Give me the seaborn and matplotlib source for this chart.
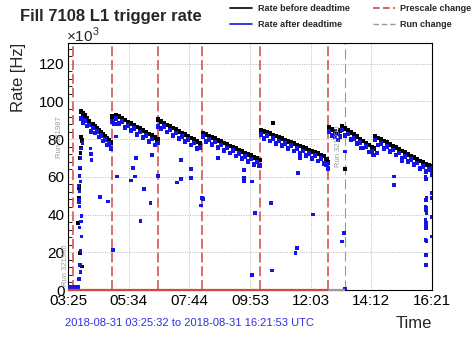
import matplotlib
matplotlib.use("Agg")
import matplotlib.pyplot as plt
from matplotlib.lines import Line2D
from matplotlib.ticker import MultipleLocator, FixedLocator
import numpy as np
import pandas as pd
import seaborn as sns

# --- donnees (temps en minutes depuis 03:25:32) ---
t_main = [27.7, 32.0, 36.3, 40.5, 44.8, 49.1, 53.3, 57.6, 61.9, 66.1, 70.4, 74.6, 78.9, 83.2, 87.4, 91.7,
          95.3, 98.7, 102.4, 108.8, 115.2, 121.6, 128.0, 134.4, 140.8, 147.2, 153.6, 160.0, 166.4, 172.8, 179.2, 185.6, 190.9,
          192.0, 198.4, 204.7, 211.1, 217.5, 223.9, 230.3, 236.7, 243.1, 249.5, 255.9, 262.3, 268.7, 275.1, 281.5,
          287.9, 294.3, 300.7, 307.1, 313.5, 319.9, 326.3, 332.7, 339.1, 345.5, 351.9, 358.3, 364.7, 371.1, 377.5, 383.9, 390.3, 396.7, 403.1, 408.4,
          411.6, 418.0, 424.4, 430.8, 437.2, 443.6, 450.0, 456.4, 462.8, 469.2, 475.6, 482.0, 488.4, 494.8, 501.2, 507.6, 514.0, 520.4, 526.8, 533.2, 539.6, 546.0, 551.3, 554.5,
          556.7, 563.1, 569.5, 575.9, 580.2,
          584.4, 590.8, 597.2, 603.6, 610.0, 616.4, 622.8, 629.2, 635.6, 642.0, 648.4, 651.6,
          654.8, 661.2, 667.6, 674.0, 680.4, 686.8, 693.2, 699.6, 706.0, 712.4, 718.8, 725.2, 731.6, 738.0, 744.4, 750.8, 757.1, 763.5, 769.9, 776.0]

rate_before = [94.7, 93.6, 92.4, 91.0, 89.5, 87.6, 88.0, 87.0, 86.0, 84.9, 83.8, 82.7, 81.6, 80.5, 79.4, 78.3,
               92.0, 91.0, 92.9, 92.0, 91.1, 90.1, 89.2, 88.3, 87.4, 86.4, 85.5, 84.6, 83.6, 82.7, 81.8, 80.8, 80.0,
               90.3, 89.4, 88.5, 87.6, 86.7, 85.9, 85.0, 84.1, 83.2, 82.4, 81.5, 80.6, 79.7, 78.8, 77.9,
               83.2, 82.4, 81.7, 80.9, 80.2, 79.4, 78.7, 77.9, 77.2, 76.4, 75.7, 74.9, 74.2, 73.4, 72.7, 71.9, 71.2, 70.4, 69.7, 69.0,
               84.9, 84.2, 83.6, 82.9, 82.3, 81.6, 80.9, 80.3, 79.6, 78.9, 78.3, 77.6, 77.0, 76.3, 75.6, 75.0, 74.3, 73.6, 73.0, 72.3, 71.7, 71.0, 69.5, 67.5,
               86.2, 85.2, 84.0, 82.8, 84.5,
               86.8, 85.7, 84.6, 83.5, 82.4, 81.3, 80.1, 79.0, 77.9, 76.8, 75.7, 74.9,
               81.6, 80.7, 79.8, 79.0, 78.1, 77.2, 76.3, 75.5, 74.6, 73.7, 72.8, 72.0, 71.1, 70.2, 69.3, 68.4, 67.6, 66.7, 65.9, 65.6]

rate_after = [91.0, 88.5, 90.0, 87.0, 87.5, 84.0, 86.0, 83.3, 84.2, 81.2, 82.0, 79.0, 79.8, 76.8, 77.6, 75.0,
              89.5, 88.0, 90.8, 88.2, 89.3, 86.3, 87.4, 84.5, 85.6, 82.6, 83.7, 80.8, 81.8, 78.9, 80.0, 77.0, 78.0,
              86.7, 85.6, 86.7, 83.8, 84.9, 82.1, 83.2, 80.3, 81.4, 78.6, 79.7, 76.8, 77.9, 75.0, 75.6,
              81.4, 78.6, 79.9, 77.1, 78.4, 75.6, 76.9, 74.1, 75.4, 72.6, 73.9, 71.1, 72.4, 69.6, 70.9, 68.1, 69.4, 66.6, 67.9, 66.0,
              82.6, 80.4, 81.8, 79.1, 80.5, 77.8, 79.1, 76.5, 77.8, 75.1, 76.5, 73.8, 75.2, 72.5, 73.8, 71.2, 72.5, 69.8, 71.2, 68.5, 69.9, 67.2, 66.5, 64.5,
              84.0, 82.0, 81.5, 79.5, 81.5,
              84.8, 82.0, 82.7, 79.8, 80.5, 77.6, 78.2, 75.3, 76.0, 73.1, 73.8, 71.5,
              79.5, 76.9, 77.8, 75.2, 76.1, 73.4, 74.3, 71.7, 72.6, 69.9, 70.8, 68.2, 69.1, 66.4, 67.3, 64.6, 65.6, 63.0, 64.0, 63.5]

# points isoles (montee du debut, chutes)
extra_before_t = [22.0, 24.1, 24.1, 24.1, 25.6, 24.5, 26.7, 27.7, 29.9, 27.7, 29.2, 25.6, 29.2, 437.2, 590.8]
extra_before = [35.4, 48.8, 55.2, 54.1, 64.8, 70.0, 72.6, 75.5, 78.7, 81.2, 79.6, 19.6, 12.4, 88.5, 64.2]

extra_after_t = [1.0, 3.5, 6.0, 8.5, 11.0, 13.5, 16.0, 18.5, 21.0,
                 26.7, 22.4, 24.5, 23.5, 24.1, 24.5, 28.8, 27.7, 24.5, 28.8, 26.7, 25.6, 26.7, 23.5,
                 24.5, 25.6, 26.7, 27.7, 30.9, 48.0, 49.1, 50.1,
                 68.3, 86.0, 102.4, 103.9, 96.6, 139.3, 145.0, 134.4, 142.9, 154.6, 162.1, 175.9, 178.5,
                 241.0, 262.3, 241.0, 233.1, 262.3, 192.6, 285.2, 283.0, 319.3, 376.0, 376.0, 376.0, 288.6,
                 391.8, 398.8, 391.8, 491.2, 494.8, 432.3, 434.5, 488.4, 485.2, 523.2,
                 590.8, 583.8, 589.3, 590.8, 624.9, 652.6, 658.4, 695.9, 695.9, 711.7,
                 762.5, 763.0, 764.6, 763.5, 762.8, 764.0, 763.2, 764.6, 762.5, 763.8, 764.2, 763.0, 762.7, 764.4, 763.1, 764.0,
                 775.3, 775.6, 775.0, 775.8, 775.3, 775.5]
extra_after = [1.5, 1.6, 1.4, 1.7, 1.5, 1.6, 1.8, 1.5, 1.6,
               57.5, 55.2, 52.6, 47.8, 46.4, 44.2, 39.3, 36.3, 33.1, 28.3, 20.7, 13.3, 9.7, 5.7,
               60.5, 65.0, 70.0, 75.0, 78.0, 75.0, 72.0, 69.0,
               49.2, 46.9, 81.4, 60.2, 21.2, 64.6, 69.9, 58.0, 60.2, 36.7, 53.4, 46.2, 71.7,
               69.0, 64.1, 58.9, 57.0, 59.3, 60.5, 48.7, 44.8, 69.9, 63.7, 59.3, 57.5, 48.1,
               57.5, 40.7, 7.8, 62.0, 69.9, 46.0, 10.3, 22.1, 19.8, 40.0,
               73.4, 25.7, 30.1, 0.4, 75.2, 71.7, 72.6, 60.2, 55.7, 68.1,
               60.2, 58.9, 48.7, 47.8, 44.2, 43.4, 42.5, 40.7, 37.2, 35.7, 34.5, 32.8, 26.5, 26.0, 18.6, 13.3,
               64.6, 61.1, 51.3, 48.7, 38.6, 28.3]

prescale_times = [10.0, 93.2, 191.3, 285.2, 408.9, 555.2]
run_times = [0.0, 590.8]
run_labels = [("Run 321987", 0.0, 81, -8.5), ("Run 321986", 0.0, 13, -2.5), ("Run 321990", 590.8, 76, -6.5)]

t_span = 776.35
xtick_labels = ["03:25", "05:34", "07:44", "09:53", "12:03", "14:12", "16:21"]

# --- tableau long pour seaborn ---
df = pd.concat([
    pd.DataFrame({"time": t_main, "rate": rate_before, "series": "before", "kind": "main"}),
    pd.DataFrame({"time": extra_before_t, "rate": extra_before, "series": "before", "kind": "extra"}),
    pd.DataFrame({"time": t_main, "rate": rate_after, "series": "after", "kind": "main"}),
    pd.DataFrame({"time": extra_after_t, "rate": extra_after, "series": "after", "kind": "extra"}),
], ignore_index=True)

sns.set_theme(style="white")
plt.rcParams["font.family"] = ["Liberation Sans", "DejaVu Sans"]
plt.rcParams["mathtext.fontset"] = "custom"
plt.rcParams["mathtext.rm"] = "Liberation Sans"

RED = "#d04848"
GRAY = "#9a9a9a"
BLUE = "#1414e6"

fig = plt.figure(figsize=(4.74, 3.37), dpi=100)
ax = fig.add_axes([68 / 474, 1 - 290 / 337, 364 / 474, 247 / 337])

for t in prescale_times:
    ax.axvline(t, color=RED, lw=1.1, dashes=(6.5, 2.5), zorder=1)
for t in run_times:
    ax.axvline(t, color=GRAY, lw=0.8, dashes=(9, 4), zorder=1)
ax.hlines(0, run_times[0], prescale_times[-1], color=RED, lw=1.6, zorder=5, clip_on=False)
ax.hlines(0, prescale_times[-1], run_times[-1], color=GRAY, lw=1.6, zorder=5, clip_on=False)

sns.scatterplot(data=df, x="time", y="rate", hue="series", palette={"before": "black", "after": BLUE},
                size="kind", sizes={"main": 11, "extra": 7}, linewidth=0, marker="s",
                legend=False, ax=ax, zorder=3)

for lab, t, yv, dx in run_labels:
    ax.annotate(lab, xy=(t, yv), xytext=(dx * 0.72, 0), textcoords="offset points", rotation=90,
                ha="center", va="center", fontsize=5.5, color=GRAY, annotation_clip=False)

ax.set_xlim(0, t_span)
ax.set_ylim(0, 131)
ax.xaxis.set_major_locator(FixedLocator(np.linspace(0, t_span, 7)))
ax.set_xticklabels(xtick_labels)
ax.yaxis.set_major_locator(MultipleLocator(20))
ax.yaxis.set_minor_locator(MultipleLocator(4))
ax.tick_params(axis="both", which="major", direction="in", length=5.5, width=0.7, labelsize=11, pad=2.5, colors="black")
ax.tick_params(axis="y", which="minor", direction="in", length=3, width=0.7, left=True)
ax.tick_params(axis="x", which="major", pad=3)
ax.grid(True, which="major", linestyle=(0, (1, 1.5)), color="#b8b8b8", linewidth=0.7)
for sp in ax.spines.values():
    sp.set_color("black")
    sp.set_linewidth(0.8)
ax.set_xlabel("")
ax.set_ylabel("")

# textes
fig.text(20 / 474, 1 - 21 / 337, "Fill 7108 L1 trigger rate", fontsize=12, fontweight="bold", va="baseline", ha="left")
fig.text(18.5 / 474, 1 - 43 / 337, "Rate [Hz]", fontsize=12, rotation=90, ha="center", va="top")
fig.text(432 / 474, 1 - 323 / 337, "Time", fontsize=12, ha="right", va="center")
fig.text(65 / 474, 1 - 323 / 337, "2018-08-31 03:25:32 to 2018-08-31 16:21:53 UTC", fontsize=8, color="#3030e0",
         ha="left", va="center")
fig.text(66 / 474, 1 - 42 / 337, r"$\times$10$^{3}$", fontsize=11, ha="left", va="baseline")

handles = [Line2D([], [], color="black", lw=1.2), Line2D([], [], color=BLUE, lw=1.2),
           Line2D([], [], color=RED, lw=1.2, dashes=(4, 2)), Line2D([], [], color=GRAY, lw=1.0, dashes=(4, 2))]
labels = ["Rate before deadtime", "Rate after deadtime", "Prescale change", "Run change"]
leg = fig.legend(handles, labels, ncol=2, loc="upper left", bbox_to_anchor=(230 / 474, 1 - 4 / 337),
                 frameon=False, prop={"size": 6.5, "weight": "bold"}, handlelength=2.4, handletextpad=0.65,
                 columnspacing=2.6, labelspacing=0.75, borderaxespad=0, borderpad=0)

fig.savefig("out.png", dpi=100)
